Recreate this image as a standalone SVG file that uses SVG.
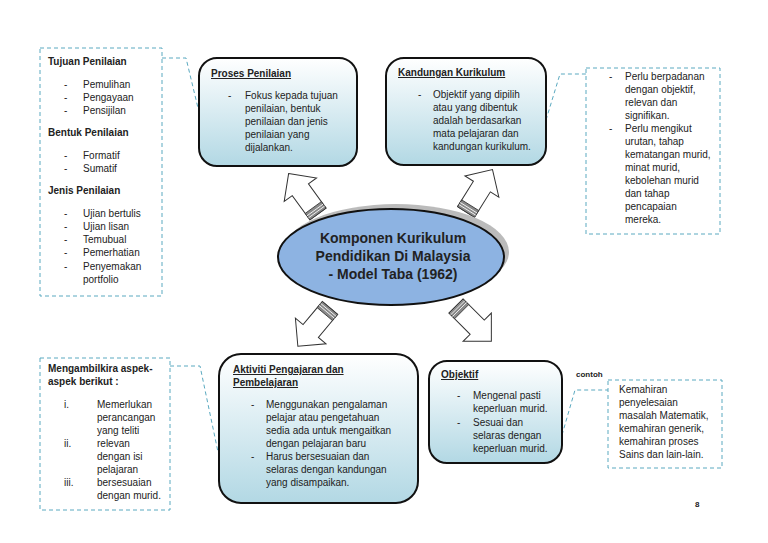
<svg xmlns="http://www.w3.org/2000/svg" width="768" height="543" viewBox="0 0 768 543">
<defs>
<linearGradient id="g" x1="0" y1="0" x2="0" y2="1"><stop offset="0" stop-color="#ffffff"/><stop offset="1" stop-color="#b2d8e4"/></linearGradient>
<g id="arr"><polygon points="0,-50 20,-30 10,-30 10,0 -10,0 -10,-30 -20,-30" fill="#fff" stroke="#333" stroke-width="1"/><rect x="-10" y="-8" width="20" height="8" fill="#888" stroke="#333" stroke-width="0.8"/><path d="M-10,-5 H10 M-10,-2.5 H10" stroke="#fff" stroke-width="0.8"/></g>
</defs>
<style>
text{font-family:"Liberation Sans",Arial,sans-serif;font-size:10px;fill:#222}
.b{font-weight:bold}
.u{font-weight:bold;text-decoration:underline}
.box{fill:url(#g);stroke:#111;stroke-width:2}
.d{fill:#fff;stroke:#5aa9c0;stroke-width:1;stroke-dasharray:4 3}
.c{fill:none;stroke:#5aa9c0;stroke-width:1;stroke-dasharray:4 3}
</style>
<rect width="768" height="543" fill="#fff"/>
<g id="connectors">
<polyline class="c" points="162,58 186,58 198,108"/>
<polyline class="c" points="546,120 560,74 586,74"/>
<polyline class="c" points="170,366 200,366 218,452"/>
<polyline class="c" points="562,435 575,390 608,390"/>
<use href="#arr" transform="translate(318,214) rotate(-36)"/>
<use href="#arr" transform="translate(466,212) rotate(32)"/>
<use href="#arr" transform="translate(330,308) rotate(-140)"/>
<use href="#arr" transform="translate(456,306) rotate(135)"/>
</g>
<g id="penilaian-list">
<rect class="d" x="40" y="48" width="122" height="248"/>
<text class="b" x="48" y="65">Tujuan Penilaian</text>
<text x="64" y="88">-</text><text x="83" y="88">Pemulihan</text>
<text x="64" y="101">-</text><text x="83" y="101">Pengayaan</text>
<text x="64" y="114">-</text><text x="83" y="114">Pensijilan</text>
<text class="b" x="48" y="136">Bentuk Penilaian</text>
<text x="64" y="159">-</text><text x="83" y="159">Formatif</text>
<text x="64" y="172">-</text><text x="83" y="172">Sumatif</text>
<text class="b" x="48" y="194">Jenis Penilaian</text>
<text x="64" y="217">-</text><text x="83" y="217">Ujian bertulis</text>
<text x="64" y="230">-</text><text x="83" y="230">Ujian lisan</text>
<text x="64" y="243">-</text><text x="83" y="243">Temubual</text>
<text x="64" y="256">-</text><text x="83" y="256">Pemerhatian</text>
<text x="64" y="270">-</text><text x="83" y="270">Penyemakan</text>
<text x="83" y="283">portfolio</text>
</g>
<g id="proses">
<rect class="box" x="199" y="58" width="158" height="108" rx="18"/>
<text class="u" x="211" y="77">Proses Penilaian</text>
<text x="228" y="99">-</text>
<text x="245" y="99">Fokus kepada tujuan</text>
<text x="245" y="112">penilaian, bentuk</text>
<text x="245" y="125">penilaian dan jenis</text>
<text x="245" y="138">penilaian yang</text>
<text x="245" y="151">dijalankan.</text>
</g>
<g id="kandungan">
<rect class="box" x="386" y="58" width="160" height="107" rx="18"/>
<text class="u" x="398" y="76">Kandungan Kurikulum</text>
<text x="418" y="98">-</text>
<text x="433" y="98">Objektif yang dipilih</text>
<text x="433" y="111">atau yang dibentuk</text>
<text x="433" y="124">adalah berdasarkan</text>
<text x="433" y="137">mata pelajaran dan</text>
<text x="433" y="150">kandungan kurikulum.</text>
</g>
<g id="kandungan-note">
<rect class="d" x="586" y="68" width="134" height="166"/>
<text x="609" y="80">-</text><text x="625" y="80">Perlu berpadanan</text>
<text x="625" y="93">dengan objektif,</text>
<text x="625" y="106">relevan dan</text>
<text x="625" y="119">signifikan.</text>
<text x="609" y="132">-</text><text x="625" y="132">Perlu mengikut</text>
<text x="625" y="145">urutan, tahap</text>
<text x="625" y="158">kematangan murid,</text>
<text x="625" y="171">minat murid,</text>
<text x="625" y="184">kebolehan murid</text>
<text x="625" y="197">dan tahap</text>
<text x="625" y="210">pencapaian</text>
<text x="625" y="223">mereka.</text>
</g>
<g id="center">
<ellipse cx="396" cy="252" rx="113" ry="48" fill="#bbb"/>
<ellipse cx="391" cy="257" rx="113" ry="48" fill="#8db3e2" stroke="#111" stroke-width="2"/>
<text class="b" x="393" y="243" text-anchor="middle" style="font-size:14px">Komponen Kurikulum</text>
<text class="b" x="393" y="261" text-anchor="middle" style="font-size:14px">Pendidikan Di Malaysia</text>
<text class="b" x="393" y="279" text-anchor="middle" style="font-size:14px">- Model Taba (1962)</text>
</g>
<g id="aktiviti-note">
<rect class="d" x="40" y="358" width="130" height="152"/>
<text class="b" x="48" y="372">Mengambilkira aspek-</text>
<text class="b" x="48" y="385">aspek berikut :</text>
<text x="64" y="408">i.</text><text x="97" y="408">Memerlukan</text>
<text x="97" y="421">perancangan</text>
<text x="97" y="434">yang teliti</text>
<text x="64" y="447">ii.</text><text x="97" y="447">relevan</text>
<text x="97" y="460">dengan isi</text>
<text x="97" y="473">pelajaran</text>
<text x="64" y="486">iii.</text><text x="97" y="486">bersesuaian</text>
<text x="97" y="499">dengan murid.</text>
</g>
<g id="aktiviti">
<rect class="box" x="219" y="354" width="199" height="149" rx="22"/>
<text class="u" x="233" y="373">Aktiviti Pengajaran dan</text>
<text class="u" x="233" y="386">Pembelajaran</text>
<text x="251" y="408">-</text>
<text x="266" y="408">Menggunakan pengalaman</text>
<text x="266" y="421">pelajar atau pengetahuan</text>
<text x="266" y="434">sedia ada untuk mengaitkan</text>
<text x="266" y="447">dengan pelajaran baru</text>
<text x="251" y="460">-</text>
<text x="266" y="460">Harus bersesuaian dan</text>
<text x="266" y="473">selaras dengan kandungan</text>
<text x="266" y="486">yang disampaikan.</text>
</g>
<g id="objektif">
<rect class="box" x="429" y="361" width="133" height="102" rx="18"/>
<text class="u" x="441" y="378">Objektif</text>
<text x="457" y="399">-</text><text x="473" y="399">Mengenal pasti</text>
<text x="473" y="412">keperluan murid.</text>
<text x="457" y="426">-</text><text x="473" y="426">Sesuai dan</text>
<text x="473" y="439">selaras dengan</text>
<text x="473" y="452">keperluan murid.</text>
</g>
<g id="contoh-note">
<text class="b" x="576" y="377" style="font-size:8px">contoh</text>
<rect class="d" x="608" y="380" width="114" height="88"/>
<text x="619" y="393">Kemahiran</text>
<text x="619" y="406">penyelesaian</text>
<text x="619" y="419">masalah Matematik,</text>
<text x="619" y="432">kemahiran generik,</text>
<text x="619" y="445">kemahiran proses</text>
<text x="619" y="458">Sains dan lain-lain.</text>
</g>
<text class="b" x="695" y="507" style="font-size:8px">8</text>
</svg>
